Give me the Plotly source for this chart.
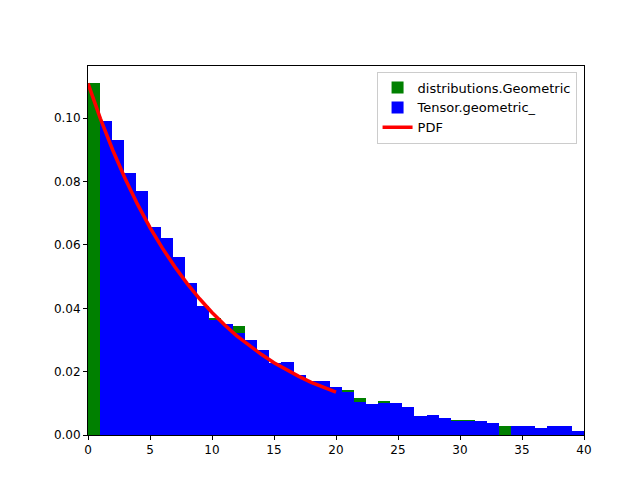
import plotly.graph_objects as go

bin_w = 0.975
green_vals = [0.111, 0.098, 0.091, 0.081, 0.075, 0.064, 0.061, 0.055, 0.047, 0.040,
              0.037, 0.034, 0.0344, 0.029, 0.026, 0.022, 0.022, 0.0175, 0.016, 0.016,
              0.014, 0.0143, 0.0117, 0.009, 0.0107, 0.0095, 0.008, 0.0058, 0.006, 0.005,
              0.0047, 0.0047, 0.004, 0.0036, 0.0028, 0.0026, 0.0028, 0.002, 0.0026, 0.0028,
              0.0013, 0.002]
blue_vals = [0, 0.099, 0.093, 0.0826, 0.0769, 0.0656, 0.0622, 0.0562, 0.048, 0.0408,
             0.0364, 0.0352, 0.0322, 0.030, 0.0267, 0.0228, 0.0232, 0.019, 0.0169, 0.017,
             0.015, 0.0136, 0.0104, 0.0098, 0.010, 0.010, 0.0088, 0.006, 0.0063, 0.0053,
             0.0044, 0.0044, 0.0044, 0.0038, 0.0, 0.0028, 0.003, 0.0022, 0.0028, 0.003,
             0.0013, 0.002]
pdf_x = list(range(21))
pdf_y = [0.111, 0.0999, 0.0899, 0.0809, 0.0728, 0.0655, 0.059, 0.0531, 0.0478, 0.043,
         0.0387, 0.0348, 0.0313, 0.0282, 0.0254, 0.0228, 0.0205, 0.0185, 0.0166, 0.015, 0.0135]

xs = [i * bin_w for i in range(len(blue_vals))]

fig = go.Figure()
fig.add_trace(go.Bar(x=xs, y=green_vals, width=bin_w, offset=0, marker=dict(color="green", line_width=0),
                     name="distributions.Geometric"))
fig.add_trace(go.Bar(x=xs, y=blue_vals, width=bin_w, offset=0, marker=dict(color="blue", line_width=0),
                     name="Tensor.geometric_"))
fig.add_trace(go.Scatter(x=pdf_x, y=pdf_y, mode="lines", line=dict(color="red", width=3.5), name="PDF"))

axis = dict(showgrid=False, zeroline=False, showline=True, linecolor="black", mirror=True,
            ticks="outside", ticklen=4, tickcolor="black", automargin=False)
fig.update_layout(
    width=640, height=480, barmode="overlay", bargap=0,
    plot_bgcolor="white", paper_bgcolor="white",
    margin=dict(l=80, r=64, t=58, b=53, autoexpand=False),
    font=dict(family="DejaVu Sans", size=12, color="black"),
    xaxis=dict(range=[0, 40], tickvals=[0, 5, 10, 15, 20, 25, 30, 35, 40], **axis),
    yaxis=dict(range=[0, 0.1165], tickvals=[0, 0.02, 0.04, 0.06, 0.08, 0.10],
               tickformat=".2f", **axis),
    legend=dict(x=0.985, y=0.985, xanchor="right", yanchor="top", bgcolor="white",
                bordercolor="#cccccc", borderwidth=1, font=dict(size=13), traceorder="normal"),
    showlegend=True,
)
fig.write_html("out.html")
